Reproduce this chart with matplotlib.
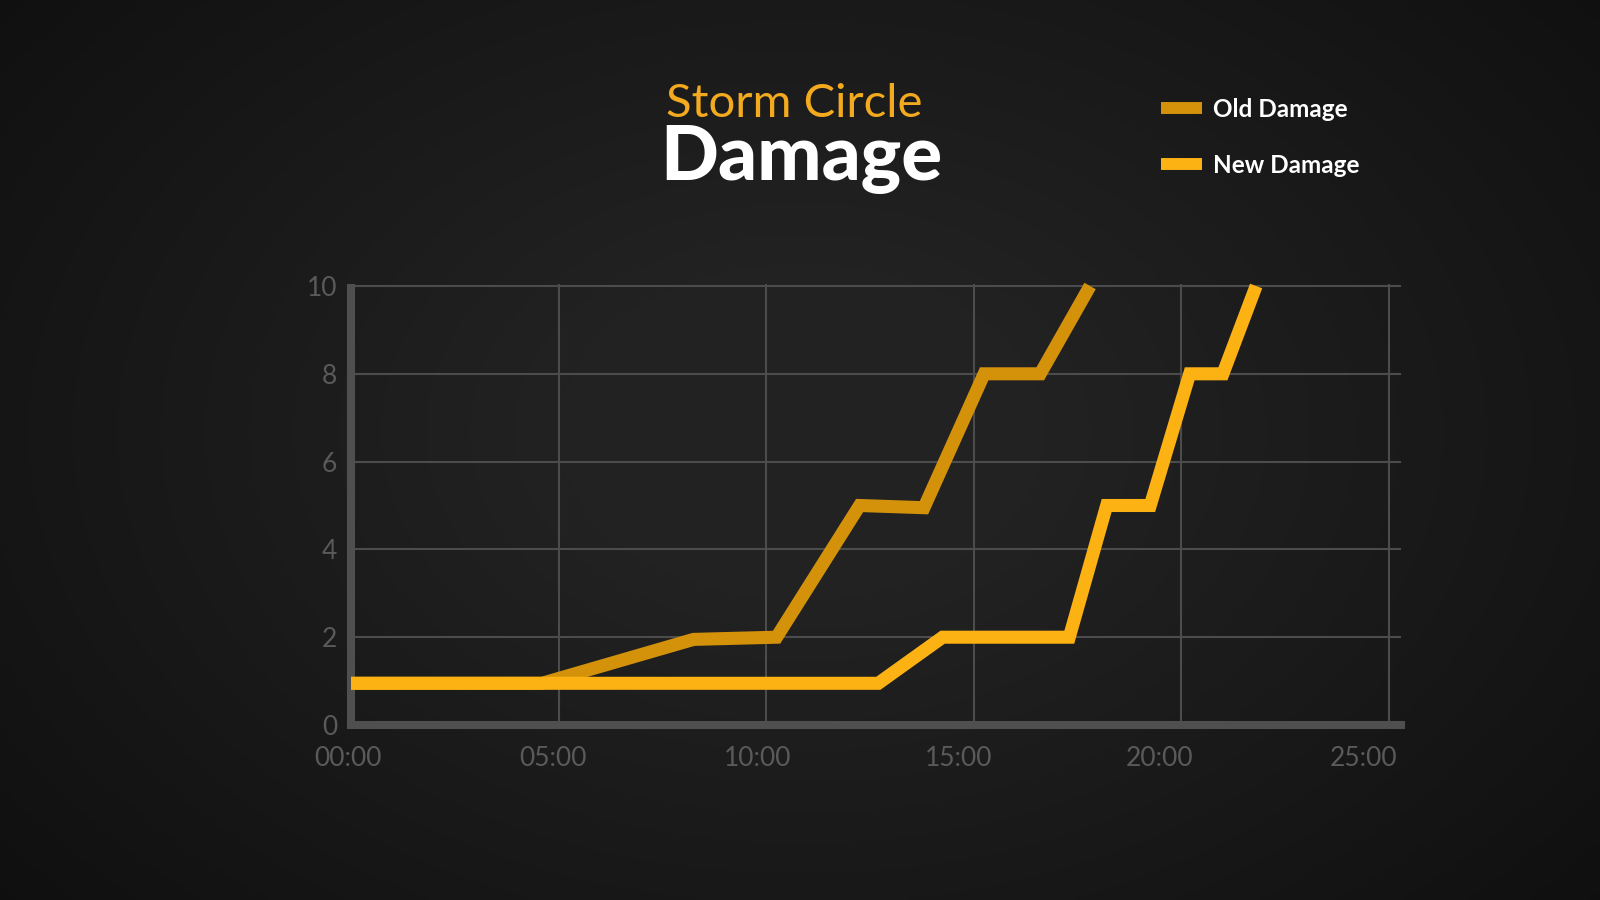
import numpy as np
import matplotlib
matplotlib.use("Agg")
import matplotlib.pyplot as plt
from matplotlib.transforms import ScaledTranslation
from matplotlib.lines import Line2D

# ---- data ----
old_time = [0, 4.6, 8.25, 10.25, 12.25, 13.8, 15.25, 16.6, 17.8]
old_damage = [0.95, 0.95, 1.95, 2.0, 5.0, 4.95, 8.0, 8.0, 10.0]
new_time = [0, 12.7, 14.25, 17.3, 18.2, 19.25, 20.2, 21.0, 21.8]
new_damage = [0.95, 0.95, 2.0, 2.0, 5.0, 5.0, 8.0, 8.0, 10.0]
x_ticks = [0, 5, 10, 15, 20, 25]
x_tick_labels = ["00:00", "05:00", "10:00", "15:00", "20:00", "25:00"]
y_ticks = [0, 2, 4, 6, 8, 10]
series_labels = ["Old Damage", "New Damage"]
title_top = "Storm Circle"
title_main = "Damage"

OLD_C = "#D4920B"
NEW_C = "#FDB213"
TITLE_C = "#F3AA1E"
GRID_C = "#4c4c4c"
SPINE_C = "#4f4f4f"
TICK_C = "#5a5a5a"

plt.rcParams['font.family'] = ['Lato', 'DejaVu Sans']

W, H = 1600, 900
fig = plt.figure(figsize=(16, 9), dpi=100)

# background vignette
bg = fig.add_axes([0, 0, 1, 1], zorder=-10)
yy, xx = np.mgrid[0:H:4, 0:W:4]
r = np.sqrt(((xx - 800) / 900.0) ** 2 + ((yy - 430) / 620.0) ** 2)
val = np.clip(0.135 - 0.08 * np.clip(r - 0.25, 0, None), 0.05, 0.14)
img = np.dstack([val, val, val])
bg.imshow(img, extent=[0, 1, 0, 1], aspect='auto', interpolation='bilinear')
bg.set_axis_off()

# main axes
px_unit_x = 41.52
px_unit_y = 43.9
x0, y0 = 351, 725
xmax, ymax = 25.3, 10.05
ax = fig.add_axes([x0 / W, (H - y0) / H, xmax * px_unit_x / W, ymax * px_unit_y / H])
ax.set_facecolor('none')
ax.set_xlim(0, xmax)
ax.set_ylim(0, ymax)

ax.set_xticks(x_ticks)
ax.set_xticklabels(x_tick_labels)
ax.set_yticks(y_ticks)
ax.grid(True, color=GRID_C, linewidth=1.5)
ax.set_axisbelow(True)
for s in ['top', 'right']:
    ax.spines[s].set_visible(False)
for s in ['left', 'bottom']:
    ax.spines[s].set_color(SPINE_C)
    ax.spines[s].set_linewidth(5.8)
ax.spines['left'].set_capstyle('butt')
ax.spines['bottom'].set_capstyle('projecting')
ax.tick_params(axis='both', length=0, colors=TICK_C, labelsize=19)
ax.tick_params(axis='y', pad=10)
ax.tick_params(axis='x', pad=15)
for lab in ax.get_xticklabels() + ax.get_yticklabels():
    lab.set_fontweight('normal')

# offset x tick labels slightly left as in reference
shifts = [-3, -6, -9, -15, -22, -25]
for lab, dx in zip(ax.get_xticklabels(), shifts):
    lab.set_transform(lab.get_transform() + ScaledTranslation(dx / 100.0, 0, fig.dpi_scale_trans))

ax.plot(old_time, old_damage, color=OLD_C, linewidth=9.4,
        solid_joinstyle='miter', solid_capstyle='butt', clip_on=False, zorder=3,
        label=series_labels[0])
ax.plot(new_time, new_damage, color=NEW_C, linewidth=9.4,
        solid_joinstyle='miter', solid_capstyle='butt', clip_on=False, zorder=4,
        label=series_labels[1])

# titles
fig.text(794 / W, 1 - 117 / H, title_top, color=TITLE_C, fontsize=34,
         ha='center', va='baseline')
fig.text(801 / W, 1 - 180 / H, title_main, color='white', fontsize=55,
         fontweight='black', ha='center', va='baseline')

# legend
h_old = Line2D([0], [0], color=OLD_C, linewidth=8.6, solid_capstyle='butt')
h_new = Line2D([0], [0], color=NEW_C, linewidth=8.6, solid_capstyle='butt')
leg = fig.legend([h_old, h_new], series_labels, loc='upper left',
                 bbox_to_anchor=(1161 / W, 1 - 98 / H), frameon=False,
                 borderpad=0, borderaxespad=0, handlelength=1.7,
                 handletextpad=0.45, labelspacing=1.35,
                 prop={'size': 17.5, 'weight': 'bold'})
for t in leg.get_texts():
    t.set_color('white')

fig.savefig('out.png', dpi=100, facecolor='#151515')
